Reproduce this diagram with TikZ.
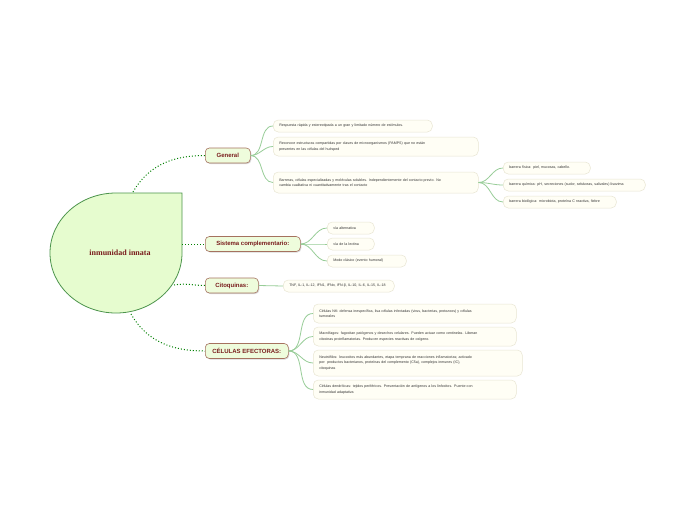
\documentclass[tikz,border=0pt]{standalone}
\usepackage{fontspec}
\setmainfont{Liberation Sans}
\newfontfamily\serifc{Liberation Serif}
\usetikzlibrary{shadows}
\definecolor{cfill}{HTML}{E6FCCF}
\definecolor{bfill}{HTML}{EEFCDC}
\definecolor{dred}{HTML}{7A1E1E}
\begin{document}
\begin{tikzpicture}[x=1pt,y=-1pt,
  branch/.style={draw=brown!70!red!60!black!70, fill=bfill, rounded corners=4pt, line width=0.6pt, font=\fontsize{6}{7}\selectfont\bfseries, text=dred, inner xsep=5pt, minimum height=15pt, anchor=west, drop shadow={opacity=0.3, shadow xshift=1pt, shadow yshift=-1pt}},
  leaf/.style={draw=yellow!30!gray!30, fill=yellow!4, rounded corners=5pt, line width=0.5pt, font=\fontsize{3.6}{5.5}\selectfont, text=black!80, inner xsep=6pt, align=left, anchor=west},
  dotc/.style={draw=green!50!black, dotted, line width=1pt},
  lc/.style={draw=green!35!gray!60, line width=0.8pt}]
\useasboundingbox (0,0) rectangle (697,520);
\fill[white] (0,0) rectangle (697,520);
% central
\draw[fill=cfill, draw=green!40!black!70, line width=0.8pt] (116,193) -- (182,193) -- (182,253) arc[start angle=0,end angle=270,x radius=66,y radius=60] -- cycle;
\node[font=\fontsize{8}{9}\selectfont\bfseries\serifc, text=dred] (c) at (120,253) {inmunidad innata};
\coordinate (c1) at (133,192);
\coordinate (c2) at (182,244);
\coordinate (c3) at (174,285);
\coordinate (c4) at (131,314);
% branches
\node[branch, minimum width=45pt] (b1) at (205,155.5) {General};
\node[branch, minimum width=95pt] (b2) at (205,244) {Sistema complementario:};
\node[branch, minimum width=53pt] (b3) at (205,285.5) {Citoquinas:};
\node[branch, minimum width=83pt] (b4) at (205,351) {CÉLULAS EFECTORAS:};
\draw[dotc] (c1) to[out=60,in=180] (b1.west);
\draw[dotc] (c2) -- (b2.west);
\draw[dotc] (c3) to[out=10,in=180] (b3.west);
\draw[dotc] (c4) to[out=-60,in=180] (b4.west);
% leaves general
\node[leaf, text width=147pt, minimum height=12pt] (g1) at (273,126) {Respuesta rápida y estereotipada a un gran y limitado número de estímulos.};
\node[leaf, text width=193pt, minimum height=19pt] (g2) at (273,146.5) {Reconoce estructuras compartidas por clases de microorganismos (PAMPS) que no están\\presentes en las células del huésped};
\node[leaf, text width=193pt, minimum height=21pt] (g3) at (273,182.5) {Barreras, células especializadas y moléculas solubles. Independientemente del contacto previo. No\\cambia cualitativa ni cuantitativamente tras el contacto};
\foreach \n in {g1,g2,g3} \draw[lc] (b1.east) to[out=0,in=180] (\n.west);
\node[leaf, text width=75pt, minimum height=12pt] (h1) at (503,168) {barrera física: piel, mucosas, cabello.};
\node[leaf, text width=130pt, minimum height=12pt] (h2) at (503,185) {barrera química: pH, secreciones (sudor, sebáceas, salivales) lisozima};
\node[leaf, text width=101pt, minimum height=12pt] (h3) at (503,202) {barrera biológica: microbiota, proteína C reactiva, fiebre};
\foreach \n in {h1,h2,h3} \draw[lc] (g3.east) to[out=0,in=180] (\n.west);
% sistema
\node[leaf, text width=35pt, minimum height=12pt] (s1) at (327,228) {vía alternativa};
\node[leaf, text width=35pt, minimum height=12pt] (s2) at (327,244) {vía de la lectina};
\node[leaf, text width=67pt, minimum height=12pt] (s3) at (327,261) {Modo clásico (evento humoral)};
\foreach \n in {s1,s2,s3} \draw[lc] (b2.east) to[out=0,in=180] (\n.west);
% citoquinas
\node[leaf, text width=99pt, minimum height=12pt] (k1) at (283,286) {TNF, IL-1, IL-12, IFN1, IFNα, IFN-β, IL-10, IL-6, IL-15, IL-18};
\draw[lc] (b3.east) -- (k1.west);
% celulas
\node[leaf, text width=191pt, minimum height=19pt] (e1) at (313,313.5) {Células NK: defensa inespecífica, lisa células infectadas (virus, bacterias, protozoos) y células\\tumorales};
\node[leaf, text width=191pt, minimum height=19pt] (e2) at (313,336.5) {Macrófagos: fagocitan patógenos y desechos celulares. Pueden actuar como centinelas. Liberan\\citocinas proinflamatorias. Producen especies reactivas de oxígeno.};
\node[leaf, text width=197pt, minimum height=26pt] (e3) at (313,363) {Neutrófilos: leucocitos más abundantes, etapa temprana de reacciones inflamatorias; activado\\por: productos bacterianos, proteínas del complemento (C5a), complejos inmunes (IC),\\citoquinas};
\node[leaf, text width=191pt, minimum height=19pt] (e4) at (313,389.5) {Células dendríticas: tejidos periféricos. Presentación de antígenos a los linfocitos. Puente con\\inmunidad adaptativa};
\foreach \n in {e1,e2,e3,e4} \draw[lc] (b4.east) to[out=0,in=180] (\n.west);
\end{tikzpicture}
\end{document}
